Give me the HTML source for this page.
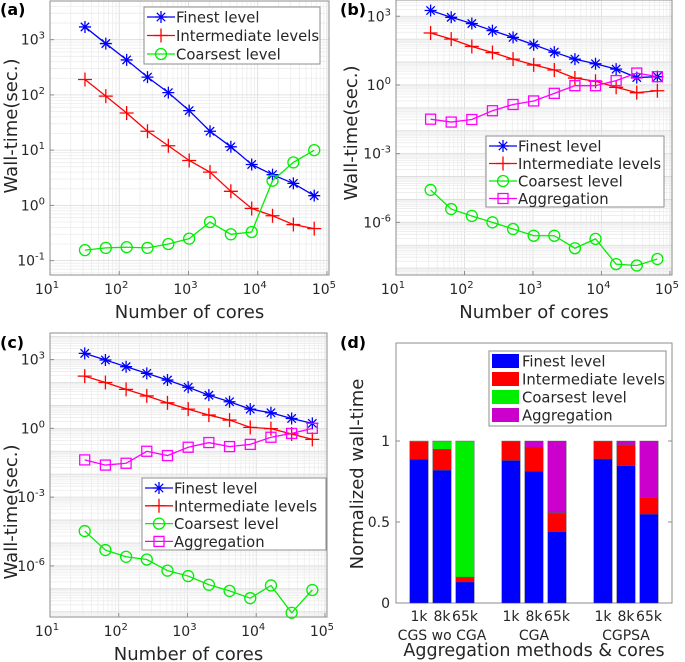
<!DOCTYPE html>
<html><head><meta charset="utf-8"><style>
body{margin:0;background:#fff}
svg{display:block;font-family:"DejaVu Sans","Liberation Sans",sans-serif}
</style></head><body>
<svg id="fig" width="685" height="662" viewBox="0 0 685 662"></svg>
<script>
const xCores=[32,64,128,256,512,1024,2048,4096,8192,16384,32768,65536];
const aFinest=[1700,850,430,210,110,52,22,11.5,5.5,3.6,2.5,1.5];
const aInter=[190,95,47,22,12,6.5,4,1.8,0.88,0.65,0.45,0.38];
const aCoarse=[0.155,0.17,0.175,0.17,0.2,0.25,0.5,0.3,0.33,2.8,6,10];
const bFinest=[1780,900,480,235,120,57,27,13.4,8.4,4.9,2.1,2.3];
const bInter=[185,100,48,26,13.4,7.5,4.5,2,1.45,0.79,0.46,0.56];
const bCoarse=[2.6e-5,3.8e-6,1.9e-6,1e-6,5.1e-7,2.6e-7,2.6e-7,7.4e-8,1.9e-7,1.5e-8,1.3e-8,2.5e-8];
const bAgg=[0.032,0.024,0.031,0.075,0.14,0.2,0.43,0.93,0.93,1.55,3.3,2.3];
const cFinest=[1860,960,490,250,128,62,28,14.5,6.9,4.8,2.7,1.65];
const cInter=[190,100,50,26,13,6.9,3.8,2.3,1.1,0.97,0.57,0.33];
const cCoarse=[3.3e-5,4.9e-6,2.5e-6,1.9e-6,6.2e-7,3.6e-7,1.5e-7,8.1e-8,3.9e-8,1.4e-7,9e-9,8.9e-8];
const cAgg=[0.042,0.025,0.03,0.10,0.065,0.15,0.24,0.16,0.2,0.41,0.6,1.0];
const dPos=[1,2,3,5,6,7,9,10,11];
const dCats=["1k","8k","65k","1k","8k","65k","1k","8k","65k"];
const dGroups=["CGS wo CGA","CGA","CGPSA"];
const dFinest=[0.887,0.82,0.13,0.88,0.813,0.44,0.889,0.848,0.548];
const dInter=[0.109,0.129,0.03,0.116,0.148,0.114,0.107,0.127,0.103];
const dCoarse=[0.004,0.051,0.84,0.002,0.001,0.004,0.002,0.001,0.001];
const dAgg=[0,0,0,0.002,0.038,0.442,0.002,0.024,0.348];

const NS="http://www.w3.org/2000/svg";
const svg=document.getElementById('fig');
function el(tag,attrs,parent){const e=document.createElementNS(NS,tag);for(const k in attrs)e.setAttribute(k,attrs[k]);(parent||svg).appendChild(e);return e;}
const TXT="#262626", AX="#8c8c8c";
const BLUE="#0000ff", RED="#ff0000", GREEN="#00ee00", MAG="#ff00ff";

function marker(g,type,x,y,color){
  if(type==='star'){const s=6;
    el('path',{d:`M${x-s},${y}H${x+s}M${x},${y-s}V${y+s}M${x-s*0.7},${y-s*0.7}L${x+s*0.7},${y+s*0.7}M${x-s*0.7},${y+s*0.7}L${x+s*0.7},${y-s*0.7}`,stroke:color,'stroke-width':1.3,fill:'none'},g);}
  else if(type==='plus'){const s=7;
    el('path',{d:`M${x-s},${y}H${x+s}M${x},${y-s}V${y+s}`,stroke:color,'stroke-width':1.3,fill:'none'},g);}
  else if(type==='circle'){el('circle',{cx:x,cy:y,r:5.5,stroke:color,'stroke-width':1.3,fill:'none'},g);}
  else if(type==='square'){el('rect',{x:x-5,y:y-5,width:10,height:10,stroke:color,'stroke-width':1.3,fill:'none'},g);}
}
function powLabel(g,x,y,exp,anchor,name){
  const t=el('text',{x:x,y:y,'font-size':14,fill:TXT,'text-anchor':anchor},g);
  
  t.appendChild(document.createTextNode('10'));
  const s=el('tspan',{dy:-6,'font-size':10},t);s.textContent=String(exp);
}

function logPanel(P){
  const g=el('g',{});
  const X=v=>P.l+(Math.log10(v)-P.xd[0])/(P.xd[1]-P.xd[0])*(P.r-P.l);
  const Y=v=>P.b-(Math.log10(v)-P.yd[0])/(P.yd[1]-P.yd[0])*(P.b-P.t);
  const grid=el('g',{},g);
  for(let e=1;e<=5;e++)for(let m=1;m<10;m++){const v=m*Math.pow(10,e);const x=X(v);if(x<=P.l+0.5||x>=P.r-0.5)continue;
    el('line',{x1:x,x2:x,y1:P.t,y2:P.b,stroke:m===1?'#d9d9d9':'#ececec','stroke-width':0.8},grid);}
  for(let e=Math.floor(P.yd[0]);e<=Math.ceil(P.yd[1]);e++)for(let m=1;m<10;m++){
    const v=m*Math.pow(10,e);const y=Y(v);if(y<=P.t+0.5||y>=P.b-0.5)continue;
    el('line',{x1:P.l,x2:P.r,y1:y,y2:y,stroke:m===1?'#d9d9d9':'#ececec','stroke-width':0.8},grid);}
  el('rect',{x:P.l,y:P.t,width:P.r-P.l,height:P.b-P.t,fill:'none',stroke:AX,'stroke-width':1,},g);
  for(let e=1;e<=5;e++){const x=X(Math.pow(10,e));
    el('line',{x1:x,x2:x,y1:P.b,y2:P.b-4,stroke:AX},g);
    powLabel(g,x-3,P.b+19,e,'middle','x-tick-label');}
  P.yticks.forEach(e=>{const y=Y(Math.pow(10,e));
    el('line',{x1:P.l,x2:P.l+4,y1:y,y2:y,stroke:AX},g);
    powLabel(g,P.l-5,y+5,e,'end','y-tick-label');});
  const xl=el('text',{x:(P.l+P.r)/2,y:P.b+43,'font-size':18,fill:TXT,'text-anchor':'middle',},g);xl.textContent='Number of cores';
  const yl=el('text',{x:0,y:0,'font-size':18,fill:TXT,'text-anchor':'middle',transform:`translate(${P.ylx},${P.yly}) rotate(-90)`,},g);yl.textContent='Wall-time(sec.)';
  const pl=el('text',{x:P.pl[0],y:P.pl[1],'font-size':16,'font-weight':'bold',fill:'#000',},g);pl.textContent=P.label;
  P.series.forEach(s=>{
    const sg=el('g',{},g);
    el('polyline',{points:xCores.map((c,i)=>X(c)+','+Y(s.data[i])).join(' '),fill:'none',stroke:s.color,'stroke-width':1.3},sg);
    xCores.forEach((c,i)=>marker(sg,s.m,X(c),Y(s.data[i]),s.color));
  });
  const L=P.leg;
  const lg=el('g',{},g);
  el('rect',{x:L.x,y:L.y,width:L.w,height:L.h,fill:'#fff',stroke:AX},lg);
  P.series.forEach((s,i)=>{const y=L.y+10+i*L.dy;
    const eg=el('g',{},lg);
    el('line',{x1:L.x+3,x2:L.x+31,y1:y,y2:y,stroke:s.color,'stroke-width':1.3},eg);
    marker(eg,s.m,L.x+17,y,s.color);
    const t=el('text',{x:L.x+32,y:y+5.5,'font-size':14.8,fill:TXT},eg);t.textContent=s.label;});
}

const SA={name:'finest-level-series',label:'Finest level',color:BLUE,m:'star'};
logPanel({name:'panel-a',label:'(a)',pl:[0,15],l:50,r:329,t:1,b:275,xd:[1,5.03],yd:[-1.26,3.7],yticks:[-1,0,1,2,3],ylx:17,yly:126,
  series:[Object.assign({},SA,{data:aFinest}),{name:'intermediate-levels-series',label:'Intermediate levels',color:RED,m:'plus',data:aInter},{name:'coarsest-level-series',label:'Coarsest level',color:GREEN,m:'circle',data:aCoarse}],
  leg:{x:144,y:7,w:176,h:57,dy:18.5}});
logPanel({name:'panel-b',label:'(b)',pl:[340,15],l:396,r:672,t:0,b:275,xd:[1,5.03],yd:[-8.3,3.71],yticks:[-6,-3,0,3],ylx:357,yly:133,
  series:[Object.assign({},SA,{data:bFinest}),{name:'intermediate-levels-series',label:'Intermediate levels',color:RED,m:'plus',data:bInter},{name:'coarsest-level-series',label:'Coarsest level',color:GREEN,m:'circle',data:bCoarse},{name:'aggregation-series',label:'Aggregation',color:MAG,m:'square',data:bAgg}],
  leg:{x:486,y:136,w:178,h:71,dy:17.5}});
logPanel({name:'panel-c',label:'(c)',pl:[0,348],l:50,r:327,t:333,b:617,xd:[1,5.03],yd:[-8.23,4.16],yticks:[-6,-3,0,3],ylx:17,yly:512,
  series:[Object.assign({},SA,{data:cFinest}),{name:'intermediate-levels-series',label:'Intermediate levels',color:RED,m:'plus',data:cInter},{name:'coarsest-level-series',label:'Coarsest level',color:GREEN,m:'circle',data:cCoarse},{name:'aggregation-series',label:'Aggregation',color:MAG,m:'square',data:cAgg}],
  leg:{x:142,y:478,w:184,h:72,dy:17.8}});

(function(){
  const g=el('g',{});
  const l=396,r=672,t=343,b=603,xd=[0,12],yd=[0,1.605];
  const X=v=>l+(v-xd[0])/(xd[1]-xd[0])*(r-l);
  const Y=v=>b-(v-yd[0])/(yd[1]-yd[0])*(b-t);
  el('rect',{x:l,y:t,width:r-l,height:b-t,fill:'#fff',stroke:AX,},g);
  [0,0.5,1].forEach(v=>{const y=Y(v);
    el('line',{x1:l,x2:l+4,y1:y,y2:y,stroke:AX},g);el('line',{x1:r,x2:r-4,y1:y,y2:y,stroke:AX},g);
    const tt=el('text',{x:l-6,y:y+5,'font-size':14,fill:TXT,'text-anchor':'end',},g);tt.textContent=String(v);});
  const stacks=[[dFinest,BLUE,'finest'],[dInter,RED,'intermediate'],[dCoarse,GREEN,'coarsest'],[dAgg,'#cc00cc','aggregation']];
  const bw=0.8*(X(1)-X(0));
  dPos.forEach((p,i)=>{let base=0;
    stacks.forEach(s=>{const v=s[0][i];if(v<=0)return;
      const rc=el('rect',{x:X(p)-bw/2,y:Y(base+v),width:bw,height:Y(base)-Y(base+v),fill:s[1],stroke:'#555','stroke-width':0.4},g);
      
      
      base+=v;});
    const tl=el('text',{x:X(p),y:621,'font-size':14,fill:TXT,'text-anchor':'middle',},g);tl.textContent=dCats[i];
  });
  dGroups.forEach((n,k)=>{const tt=el('text',{x:X(dPos[k*3+1]),y:640,'font-size':14,fill:TXT,'text-anchor':'middle',},g);tt.textContent=n;});
  const xl=el('text',{x:(l+r)/2,y:656,'font-size':17.5,fill:TXT,'text-anchor':'middle',},g);xl.textContent='Aggregation methods & cores';
  const yl=el('text',{x:0,y:0,'font-size':18,fill:TXT,'text-anchor':'middle',transform:'translate(363,474) rotate(-90)',},g);yl.textContent='Normalized wall-time';
  const pl=el('text',{x:340,y:348,'font-size':16,'font-weight':'bold',fill:'#000',},g);pl.textContent='(d)';
  const lg=el('g',{},g);
  el('rect',{x:489,y:351,width:177,height:75,fill:'#fff',stroke:AX},lg);
  const names=['Finest level','Intermediate levels','Coarsest level','Aggregation'];
  stacks.forEach((s,i)=>{const y=361+i*18;
    const eg=el('g',{},lg);
    el('rect',{x:492,y:y-7,width:27,height:14,fill:s[1]},eg);
    const tt=el('text',{x:522,y:y+5.5,'font-size':14.8,fill:TXT},eg);tt.textContent=names[i];});
})();
</script>
</body></html>
